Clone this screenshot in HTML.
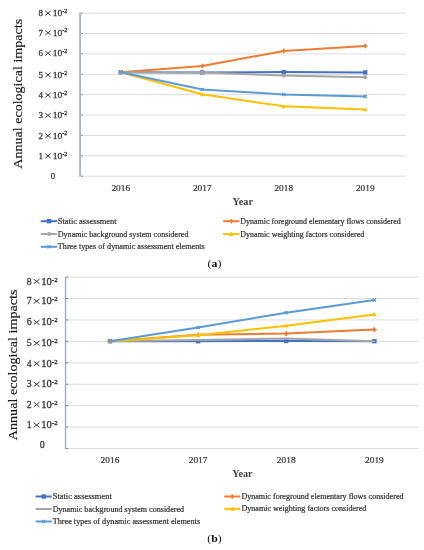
<!DOCTYPE html>
<html><head><meta charset="utf-8"><style>
html,body{margin:0;padding:0;background:#fff;}
body{width:424px;height:550px;overflow:hidden;font-family:"Liberation Serif",serif;}
svg{display:block;will-change:transform;filter:blur(0.35px);}
</style></head><body>
<svg width="424" height="550" viewBox="0 0 424 550">
<rect width="424" height="550" fill="#fff"/>
<line x1="80.10" y1="176.20" x2="406.00" y2="176.20" stroke="#DCDCDC" stroke-width="1"/>
<line x1="80.10" y1="155.82" x2="406.00" y2="155.82" stroke="#DCDCDC" stroke-width="1"/>
<line x1="80.10" y1="135.44" x2="406.00" y2="135.44" stroke="#DCDCDC" stroke-width="1"/>
<line x1="80.10" y1="115.06" x2="406.00" y2="115.06" stroke="#DCDCDC" stroke-width="1"/>
<line x1="80.10" y1="94.68" x2="406.00" y2="94.68" stroke="#DCDCDC" stroke-width="1"/>
<line x1="80.10" y1="74.30" x2="406.00" y2="74.30" stroke="#DCDCDC" stroke-width="1"/>
<line x1="80.10" y1="53.92" x2="406.00" y2="53.92" stroke="#DCDCDC" stroke-width="1"/>
<line x1="80.10" y1="33.54" x2="406.00" y2="33.54" stroke="#DCDCDC" stroke-width="1"/>
<line x1="80.10" y1="13.16" x2="406.00" y2="13.16" stroke="#DCDCDC" stroke-width="1"/>
<line x1="80.10" y1="12.76" x2="80.10" y2="176.60" stroke="#B0B5C0" stroke-width="2.0"/>
<line x1="81.10" y1="176.20" x2="82.70" y2="176.20" stroke="#7E8594" stroke-width="1"/>
<line x1="81.10" y1="155.82" x2="82.70" y2="155.82" stroke="#7E8594" stroke-width="1"/>
<line x1="81.10" y1="135.44" x2="82.70" y2="135.44" stroke="#7E8594" stroke-width="1"/>
<line x1="81.10" y1="115.06" x2="82.70" y2="115.06" stroke="#7E8594" stroke-width="1"/>
<line x1="81.10" y1="94.68" x2="82.70" y2="94.68" stroke="#7E8594" stroke-width="1"/>
<line x1="81.10" y1="74.30" x2="82.70" y2="74.30" stroke="#7E8594" stroke-width="1"/>
<line x1="81.10" y1="53.92" x2="82.70" y2="53.92" stroke="#7E8594" stroke-width="1"/>
<line x1="81.10" y1="33.54" x2="82.70" y2="33.54" stroke="#7E8594" stroke-width="1"/>
<line x1="81.10" y1="13.16" x2="82.70" y2="13.16" stroke="#7E8594" stroke-width="1"/>
<g fill="#3a3a3a" stroke="#3a3a3a" stroke-width="0.3" font-family="Liberation Serif">
<text x="53.00" y="179.43" font-size="9.0" text-anchor="middle">0</text>
<text x="38.55" y="158.83" font-size="9.0">1</text><path d="M45.30 153.70L50.70 158.10M45.30 158.10L50.70 153.70" stroke="#3a3a3a" stroke-width="1.0" fill="none"/><text x="52.73" y="158.83" font-size="9.0" textLength="9.66" lengthAdjust="spacingAndGlyphs">10</text><text x="62.36" y="155.55" font-size="5.5" textLength="5.00" lengthAdjust="spacingAndGlyphs">-2</text>
<text x="38.55" y="138.62" font-size="9.0">2</text><path d="M45.30 133.50L50.70 137.90M45.30 137.90L50.70 133.50" stroke="#3a3a3a" stroke-width="1.0" fill="none"/><text x="52.73" y="138.62" font-size="9.0" textLength="9.66" lengthAdjust="spacingAndGlyphs">10</text><text x="62.36" y="135.35" font-size="5.5" textLength="5.00" lengthAdjust="spacingAndGlyphs">-2</text>
<text x="38.55" y="118.33" font-size="9.0">3</text><path d="M45.30 113.20L50.70 117.60M45.30 117.60L50.70 113.20" stroke="#3a3a3a" stroke-width="1.0" fill="none"/><text x="52.73" y="118.33" font-size="9.0" textLength="9.66" lengthAdjust="spacingAndGlyphs">10</text><text x="62.36" y="115.05" font-size="5.5" textLength="5.00" lengthAdjust="spacingAndGlyphs">-2</text>
<text x="38.55" y="98.02" font-size="9.0">4</text><path d="M45.30 92.90L50.70 97.30M45.30 97.30L50.70 92.90" stroke="#3a3a3a" stroke-width="1.0" fill="none"/><text x="52.73" y="98.02" font-size="9.0" textLength="9.66" lengthAdjust="spacingAndGlyphs">10</text><text x="62.36" y="94.75" font-size="5.5" textLength="5.00" lengthAdjust="spacingAndGlyphs">-2</text>
<text x="38.55" y="77.83" font-size="9.0">5</text><path d="M45.30 72.70L50.70 77.10M45.30 77.10L50.70 72.70" stroke="#3a3a3a" stroke-width="1.0" fill="none"/><text x="52.73" y="77.83" font-size="9.0" textLength="9.66" lengthAdjust="spacingAndGlyphs">10</text><text x="62.36" y="74.55" font-size="5.5" textLength="5.00" lengthAdjust="spacingAndGlyphs">-2</text>
<text x="38.55" y="56.22" font-size="9.0">6</text><path d="M45.30 51.10L50.70 55.50M45.30 55.50L50.70 51.10" stroke="#3a3a3a" stroke-width="1.0" fill="none"/><text x="52.73" y="56.22" font-size="9.0" textLength="9.66" lengthAdjust="spacingAndGlyphs">10</text><text x="62.36" y="52.95" font-size="5.5" textLength="5.00" lengthAdjust="spacingAndGlyphs">-2</text>
<text x="38.55" y="35.72" font-size="9.0">7</text><path d="M45.30 30.60L50.70 35.00M45.30 35.00L50.70 30.60" stroke="#3a3a3a" stroke-width="1.0" fill="none"/><text x="52.73" y="35.72" font-size="9.0" textLength="9.66" lengthAdjust="spacingAndGlyphs">10</text><text x="62.36" y="32.45" font-size="5.5" textLength="5.00" lengthAdjust="spacingAndGlyphs">-2</text>
<text x="38.55" y="16.12" font-size="9.0">8</text><path d="M45.30 11.00L50.70 15.40M45.30 15.40L50.70 11.00" stroke="#3a3a3a" stroke-width="1.0" fill="none"/><text x="52.73" y="16.12" font-size="9.0" textLength="9.66" lengthAdjust="spacingAndGlyphs">10</text><text x="62.36" y="12.85" font-size="5.5" textLength="5.00" lengthAdjust="spacingAndGlyphs">-2</text>
</g>
<text transform="translate(21.60 93.80) rotate(-90)" font-family="Liberation Serif" font-size="13" fill="#1a1a1a" stroke="#1a1a1a" stroke-width="0.15" text-anchor="middle" textLength="149.8" lengthAdjust="spacingAndGlyphs">Annual ecological impacts</text>
<text x="120.75" y="190.90" font-family="Liberation Serif" font-size="8.9" fill="#333333" stroke="#333333" stroke-width="0.2" text-anchor="middle" textLength="18.6" lengthAdjust="spacingAndGlyphs">2016</text>
<text x="202.25" y="190.90" font-family="Liberation Serif" font-size="8.9" fill="#333333" stroke="#333333" stroke-width="0.2" text-anchor="middle" textLength="18.6" lengthAdjust="spacingAndGlyphs">2017</text>
<text x="283.75" y="190.90" font-family="Liberation Serif" font-size="8.9" fill="#333333" stroke="#333333" stroke-width="0.2" text-anchor="middle" textLength="18.6" lengthAdjust="spacingAndGlyphs">2018</text>
<text x="365.25" y="190.90" font-family="Liberation Serif" font-size="8.9" fill="#333333" stroke="#333333" stroke-width="0.2" text-anchor="middle" textLength="18.6" lengthAdjust="spacingAndGlyphs">2019</text>
<text x="242.75" y="204.50" font-family="Liberation Serif" font-size="10.2" font-weight="bold" fill="#404040" text-anchor="middle">Year</text>
<polyline points="120.75,72.20 202.25,72.40 283.75,72.10 365.25,72.40" fill="none" stroke="#4472C4" stroke-width="2.0" stroke-linejoin="round" stroke-linecap="round"/>
<rect x="118.55" y="70.00" width="4.40" height="4.40" fill="#4472C4"/>
<rect x="200.05" y="70.20" width="4.40" height="4.40" fill="#4472C4"/>
<rect x="281.55" y="69.90" width="4.40" height="4.40" fill="#4472C4"/>
<rect x="363.05" y="70.20" width="4.40" height="4.40" fill="#4472C4"/>
<polyline points="120.75,72.20 202.25,66.00 283.75,50.90 365.25,46.00" fill="none" stroke="#ED7D31" stroke-width="2.0" stroke-linejoin="round" stroke-linecap="round"/>
<path d="M120.75 69.90V74.50M118.45 72.20H123.05" stroke="#ED7D31" stroke-width="1.6" fill="none"/>
<path d="M202.25 63.70V68.30M199.95 66.00H204.55" stroke="#ED7D31" stroke-width="1.6" fill="none"/>
<path d="M283.75 48.60V53.20M281.45 50.90H286.05" stroke="#ED7D31" stroke-width="1.6" fill="none"/>
<path d="M365.25 43.70V48.30M362.95 46.00H367.55" stroke="#ED7D31" stroke-width="1.6" fill="none"/>
<polyline points="120.75,72.20 202.25,72.50 283.75,75.50 365.25,77.30" fill="none" stroke="#A5A5A5" stroke-width="2.0" stroke-linejoin="round" stroke-linecap="round"/>
<circle cx="120.75" cy="72.20" r="2.00" fill="#A5A5A5"/>
<circle cx="202.25" cy="72.50" r="2.00" fill="#A5A5A5"/>
<circle cx="283.75" cy="75.50" r="2.00" fill="#A5A5A5"/>
<circle cx="365.25" cy="77.30" r="2.00" fill="#A5A5A5"/>
<polyline points="120.75,72.20 202.25,94.30 283.75,106.30 365.25,109.50" fill="none" stroke="#FFC000" stroke-width="2.0" stroke-linejoin="round" stroke-linecap="round"/>
<path d="M120.75 69.90L123.05 74.04L118.45 74.04Z" fill="#FFC000"/>
<path d="M202.25 92.00L204.55 96.14L199.95 96.14Z" fill="#FFC000"/>
<path d="M283.75 104.00L286.05 108.14L281.45 108.14Z" fill="#FFC000"/>
<path d="M365.25 107.20L367.55 111.34L362.95 111.34Z" fill="#FFC000"/>
<polyline points="120.75,72.20 202.25,89.40 283.75,94.40 365.25,96.40" fill="none" stroke="#5B9BD5" stroke-width="2.0" stroke-linejoin="round" stroke-linecap="round"/>
<path d="M119.15 70.60L122.35 73.80M119.15 73.80L122.35 70.60" stroke="#5B9BD5" stroke-width="1.2" fill="none"/>
<path d="M200.65 87.80L203.85 91.00M200.65 91.00L203.85 87.80" stroke="#5B9BD5" stroke-width="1.2" fill="none"/>
<path d="M282.15 92.80L285.35 96.00M282.15 96.00L285.35 92.80" stroke="#5B9BD5" stroke-width="1.2" fill="none"/>
<path d="M363.65 94.80L366.85 98.00M363.65 98.00L366.85 94.80" stroke="#5B9BD5" stroke-width="1.2" fill="none"/>
<line x1="40.80" y1="221.20" x2="57.20" y2="221.20" stroke="#4472C4" stroke-width="2.0"/>
<rect x="46.80" y="219.00" width="4.40" height="4.40" fill="#4472C4"/>
<text x="57.80" y="223.80" font-family="Liberation Serif" font-size="7.2" fill="#333333" stroke="#333333" stroke-width="0.2" textLength="58.80" lengthAdjust="spacingAndGlyphs">Static assessment</text>
<line x1="40.80" y1="234.00" x2="57.20" y2="234.00" stroke="#A5A5A5" stroke-width="2.0"/>
<circle cx="49.00" cy="234.00" r="2.00" fill="#A5A5A5"/>
<text x="57.80" y="236.60" font-family="Liberation Serif" font-size="7.2" fill="#333333" stroke="#333333" stroke-width="0.2" textLength="130.60" lengthAdjust="spacingAndGlyphs">Dynamic background system considered</text>
<line x1="40.80" y1="246.80" x2="57.20" y2="246.80" stroke="#5B9BD5" stroke-width="2.0"/>
<path d="M47.40 245.20L50.60 248.40M47.40 248.40L50.60 245.20" stroke="#5B9BD5" stroke-width="1.2" fill="none"/>
<text x="57.80" y="249.40" font-family="Liberation Serif" font-size="7.2" fill="#333333" stroke="#333333" stroke-width="0.2" textLength="147.00" lengthAdjust="spacingAndGlyphs">Three types of dynamic assessment elements</text>
<line x1="223.20" y1="221.20" x2="239.60" y2="221.20" stroke="#ED7D31" stroke-width="2.0"/>
<path d="M231.40 218.90V223.50M229.10 221.20H233.70" stroke="#ED7D31" stroke-width="1.6" fill="none"/>
<text x="240.30" y="223.80" font-family="Liberation Serif" font-size="7.2" fill="#333333" stroke="#333333" stroke-width="0.2" textLength="160.40" lengthAdjust="spacingAndGlyphs">Dynamic foreground elementary flows considered</text>
<line x1="223.20" y1="234.10" x2="239.60" y2="234.10" stroke="#FFC000" stroke-width="2.0"/>
<path d="M231.40 231.80L233.70 235.94L229.10 235.94Z" fill="#FFC000"/>
<text x="240.30" y="236.70" font-family="Liberation Serif" font-size="7.2" fill="#333333" stroke="#333333" stroke-width="0.2" textLength="124.00" lengthAdjust="spacingAndGlyphs">Dynamic weighting factors considered</text>
<text x="214.50" y="266.80" font-family="Liberation Serif" font-size="10.8" fill="#111" text-anchor="middle" textLength="13.9" lengthAdjust="spacingAndGlyphs">(<tspan font-weight="bold">a</tspan>)</text>
<line x1="65.55" y1="448.50" x2="418.50" y2="448.50" stroke="#DCDCDC" stroke-width="1"/>
<line x1="65.55" y1="427.07" x2="418.50" y2="427.07" stroke="#DCDCDC" stroke-width="1"/>
<line x1="65.55" y1="405.65" x2="418.50" y2="405.65" stroke="#DCDCDC" stroke-width="1"/>
<line x1="65.55" y1="384.23" x2="418.50" y2="384.23" stroke="#DCDCDC" stroke-width="1"/>
<line x1="65.55" y1="362.80" x2="418.50" y2="362.80" stroke="#DCDCDC" stroke-width="1"/>
<line x1="65.55" y1="341.38" x2="418.50" y2="341.38" stroke="#DCDCDC" stroke-width="1"/>
<line x1="65.55" y1="319.95" x2="418.50" y2="319.95" stroke="#DCDCDC" stroke-width="1"/>
<line x1="65.55" y1="298.52" x2="418.50" y2="298.52" stroke="#DCDCDC" stroke-width="1"/>
<line x1="65.55" y1="277.10" x2="418.50" y2="277.10" stroke="#DCDCDC" stroke-width="1"/>
<line x1="65.55" y1="276.70" x2="65.55" y2="448.90" stroke="#A3A7C0" stroke-width="1.4"/>
<line x1="66.25" y1="448.50" x2="67.95" y2="448.50" stroke="#70768C" stroke-width="1"/>
<line x1="66.25" y1="427.07" x2="67.95" y2="427.07" stroke="#70768C" stroke-width="1"/>
<line x1="66.25" y1="405.65" x2="67.95" y2="405.65" stroke="#70768C" stroke-width="1"/>
<line x1="66.25" y1="384.23" x2="67.95" y2="384.23" stroke="#70768C" stroke-width="1"/>
<line x1="66.25" y1="362.80" x2="67.95" y2="362.80" stroke="#70768C" stroke-width="1"/>
<line x1="66.25" y1="341.38" x2="67.95" y2="341.38" stroke="#70768C" stroke-width="1"/>
<line x1="66.25" y1="319.95" x2="67.95" y2="319.95" stroke="#70768C" stroke-width="1"/>
<line x1="66.25" y1="298.52" x2="67.95" y2="298.52" stroke="#70768C" stroke-width="1"/>
<line x1="66.25" y1="277.10" x2="67.95" y2="277.10" stroke="#70768C" stroke-width="1"/>
<g fill="#3a3a3a" stroke="#3a3a3a" stroke-width="0.3" font-family="Liberation Serif">
<text x="42.30" y="448.49" font-size="9.8" text-anchor="middle">0</text>
<text x="26.71" y="428.19" font-size="9.8">1</text><path d="M33.70 422.70L39.50 427.30M33.70 427.30L39.50 422.70" stroke="#3a3a3a" stroke-width="1.0" fill="none"/><text x="41.15" y="428.19" font-size="9.8" textLength="10.57" lengthAdjust="spacingAndGlyphs">10</text><text x="51.93" y="425.11" font-size="6.0" textLength="5.68" lengthAdjust="spacingAndGlyphs">-2</text>
<text x="26.71" y="407.79" font-size="9.8">2</text><path d="M33.70 402.30L39.50 406.90M33.70 406.90L39.50 402.30" stroke="#3a3a3a" stroke-width="1.0" fill="none"/><text x="41.15" y="407.79" font-size="9.8" textLength="10.57" lengthAdjust="spacingAndGlyphs">10</text><text x="51.93" y="404.71" font-size="6.0" textLength="5.68" lengthAdjust="spacingAndGlyphs">-2</text>
<text x="26.71" y="387.49" font-size="9.8">3</text><path d="M33.70 382.00L39.50 386.60M33.70 386.60L39.50 382.00" stroke="#3a3a3a" stroke-width="1.0" fill="none"/><text x="41.15" y="387.49" font-size="9.8" textLength="10.57" lengthAdjust="spacingAndGlyphs">10</text><text x="51.93" y="384.41" font-size="6.0" textLength="5.68" lengthAdjust="spacingAndGlyphs">-2</text>
<text x="26.71" y="366.79" font-size="9.8">4</text><path d="M33.70 361.30L39.50 365.90M33.70 365.90L39.50 361.30" stroke="#3a3a3a" stroke-width="1.0" fill="none"/><text x="41.15" y="366.79" font-size="9.8" textLength="10.57" lengthAdjust="spacingAndGlyphs">10</text><text x="51.93" y="363.71" font-size="6.0" textLength="5.68" lengthAdjust="spacingAndGlyphs">-2</text>
<text x="26.71" y="346.38" font-size="9.8">5</text><path d="M33.70 340.90L39.50 345.50M33.70 345.50L39.50 340.90" stroke="#3a3a3a" stroke-width="1.0" fill="none"/><text x="41.15" y="346.38" font-size="9.8" textLength="10.57" lengthAdjust="spacingAndGlyphs">10</text><text x="51.93" y="343.31" font-size="6.0" textLength="5.68" lengthAdjust="spacingAndGlyphs">-2</text>
<text x="26.71" y="325.49" font-size="9.8">6</text><path d="M33.70 320.00L39.50 324.60M33.70 324.60L39.50 320.00" stroke="#3a3a3a" stroke-width="1.0" fill="none"/><text x="41.15" y="325.49" font-size="9.8" textLength="10.57" lengthAdjust="spacingAndGlyphs">10</text><text x="51.93" y="322.41" font-size="6.0" textLength="5.68" lengthAdjust="spacingAndGlyphs">-2</text>
<text x="26.71" y="304.38" font-size="9.8">7</text><path d="M33.70 298.90L39.50 303.50M33.70 303.50L39.50 298.90" stroke="#3a3a3a" stroke-width="1.0" fill="none"/><text x="41.15" y="304.38" font-size="9.8" textLength="10.57" lengthAdjust="spacingAndGlyphs">10</text><text x="51.93" y="301.31" font-size="6.0" textLength="5.68" lengthAdjust="spacingAndGlyphs">-2</text>
<text x="26.71" y="284.58" font-size="9.8">8</text><path d="M33.70 279.10L39.50 283.70M33.70 283.70L39.50 279.10" stroke="#3a3a3a" stroke-width="1.0" fill="none"/><text x="41.15" y="284.58" font-size="9.8" textLength="10.57" lengthAdjust="spacingAndGlyphs">10</text><text x="51.93" y="281.51" font-size="6.0" textLength="5.68" lengthAdjust="spacingAndGlyphs">-2</text>
</g>
<text transform="translate(17.40 364.90) rotate(-90)" font-family="Liberation Serif" font-size="13" fill="#1a1a1a" stroke="#1a1a1a" stroke-width="0.15" text-anchor="middle" textLength="150.7" lengthAdjust="spacingAndGlyphs">Annual ecological impacts</text>
<text x="110.00" y="463.30" font-family="Liberation Serif" font-size="8.9" fill="#333333" stroke="#333333" stroke-width="0.2" text-anchor="middle" textLength="18.8" lengthAdjust="spacingAndGlyphs">2016</text>
<text x="198.10" y="463.30" font-family="Liberation Serif" font-size="8.9" fill="#333333" stroke="#333333" stroke-width="0.2" text-anchor="middle" textLength="18.8" lengthAdjust="spacingAndGlyphs">2017</text>
<text x="286.20" y="463.30" font-family="Liberation Serif" font-size="8.9" fill="#333333" stroke="#333333" stroke-width="0.2" text-anchor="middle" textLength="18.8" lengthAdjust="spacingAndGlyphs">2018</text>
<text x="374.40" y="463.30" font-family="Liberation Serif" font-size="8.9" fill="#333333" stroke="#333333" stroke-width="0.2" text-anchor="middle" textLength="18.8" lengthAdjust="spacingAndGlyphs">2019</text>
<text x="242.40" y="476.80" font-family="Liberation Serif" font-size="10.2" font-weight="bold" fill="#404040" text-anchor="middle">Year</text>
<polyline points="110.00,341.20 198.10,341.20 286.20,341.00 374.40,341.20" fill="none" stroke="#4472C4" stroke-width="2.0" stroke-linejoin="round" stroke-linecap="round"/>
<rect x="107.80" y="339.00" width="4.40" height="4.40" fill="#4472C4"/>
<rect x="195.90" y="339.00" width="4.40" height="4.40" fill="#4472C4"/>
<rect x="284.00" y="338.80" width="4.40" height="4.40" fill="#4472C4"/>
<rect x="372.20" y="339.00" width="4.40" height="4.40" fill="#4472C4"/>
<polyline points="110.00,341.20 198.10,334.80 286.20,333.60 374.40,329.60" fill="none" stroke="#ED7D31" stroke-width="2.0" stroke-linejoin="round" stroke-linecap="round"/>
<path d="M110.00 338.90V343.50M107.70 341.20H112.30" stroke="#ED7D31" stroke-width="1.6" fill="none"/>
<path d="M198.10 332.50V337.10M195.80 334.80H200.40" stroke="#ED7D31" stroke-width="1.6" fill="none"/>
<path d="M286.20 331.30V335.90M283.90 333.60H288.50" stroke="#ED7D31" stroke-width="1.6" fill="none"/>
<path d="M374.40 327.30V331.90M372.10 329.60H376.70" stroke="#ED7D31" stroke-width="1.6" fill="none"/>
<polyline points="110.00,341.20 198.10,340.00 286.20,338.60 374.40,341.20" fill="none" stroke="#A5A5A5" stroke-width="2.0" stroke-linejoin="round" stroke-linecap="round"/>
<polyline points="110.00,341.20 198.10,335.30 286.20,325.70 374.40,314.40" fill="none" stroke="#FFC000" stroke-width="2.0" stroke-linejoin="round" stroke-linecap="round"/>
<path d="M110.00 338.90L112.30 343.04L107.70 343.04Z" fill="#FFC000"/>
<path d="M198.10 333.00L200.40 337.14L195.80 337.14Z" fill="#FFC000"/>
<path d="M286.20 323.40L288.50 327.54L283.90 327.54Z" fill="#FFC000"/>
<path d="M374.40 312.10L376.70 316.24L372.10 316.24Z" fill="#FFC000"/>
<polyline points="110.00,341.20 198.10,327.40 286.20,312.70 374.40,299.90" fill="none" stroke="#5B9BD5" stroke-width="2.0" stroke-linejoin="round" stroke-linecap="round"/>
<path d="M108.40 339.60L111.60 342.80M108.40 342.80L111.60 339.60" stroke="#5B9BD5" stroke-width="1.2" fill="none"/>
<path d="M196.50 325.80L199.70 329.00M196.50 329.00L199.70 325.80" stroke="#5B9BD5" stroke-width="1.2" fill="none"/>
<path d="M284.60 311.10L287.80 314.30M284.60 314.30L287.80 311.10" stroke="#5B9BD5" stroke-width="1.2" fill="none"/>
<path d="M372.80 298.30L376.00 301.50M372.80 301.50L376.00 298.30" stroke="#5B9BD5" stroke-width="1.2" fill="none"/>
<line x1="35.60" y1="496.50" x2="51.80" y2="496.50" stroke="#4472C4" stroke-width="2.0"/>
<rect x="41.50" y="494.30" width="4.40" height="4.40" fill="#4472C4"/>
<text x="52.70" y="499.10" font-family="Liberation Serif" font-size="7.2" fill="#333333" stroke="#333333" stroke-width="0.2" textLength="59.10" lengthAdjust="spacingAndGlyphs">Static assessment</text>
<line x1="35.60" y1="509.00" x2="51.80" y2="509.00" stroke="#A5A5A5" stroke-width="2.0"/>
<text x="52.70" y="511.60" font-family="Liberation Serif" font-size="7.2" fill="#333333" stroke="#333333" stroke-width="0.2" textLength="131.40" lengthAdjust="spacingAndGlyphs">Dynamic background system considered</text>
<line x1="35.60" y1="521.50" x2="51.80" y2="521.50" stroke="#5B9BD5" stroke-width="2.0"/>
<path d="M42.10 519.90L45.30 523.10M42.10 523.10L45.30 519.90" stroke="#5B9BD5" stroke-width="1.2" fill="none"/>
<text x="52.70" y="524.10" font-family="Liberation Serif" font-size="7.2" fill="#333333" stroke="#333333" stroke-width="0.2" textLength="147.40" lengthAdjust="spacingAndGlyphs">Three types of dynamic assessment elements</text>
<line x1="224.20" y1="496.50" x2="240.40" y2="496.50" stroke="#ED7D31" stroke-width="2.0"/>
<path d="M232.30 494.20V498.80M230.00 496.50H234.60" stroke="#ED7D31" stroke-width="1.6" fill="none"/>
<text x="241.40" y="499.10" font-family="Liberation Serif" font-size="7.2" fill="#333333" stroke="#333333" stroke-width="0.2" textLength="162.10" lengthAdjust="spacingAndGlyphs">Dynamic foreground elementary flows considered</text>
<line x1="224.20" y1="508.80" x2="240.40" y2="508.80" stroke="#FFC000" stroke-width="2.0"/>
<path d="M232.30 506.50L234.60 510.64L230.00 510.64Z" fill="#FFC000"/>
<text x="241.40" y="511.40" font-family="Liberation Serif" font-size="7.2" fill="#333333" stroke="#333333" stroke-width="0.2" textLength="125.00" lengthAdjust="spacingAndGlyphs">Dynamic weighting factors considered</text>
<text x="214.45" y="541.90" font-family="Liberation Serif" font-size="10.8" fill="#111" text-anchor="middle" textLength="14.5" lengthAdjust="spacingAndGlyphs">(<tspan font-weight="bold">b</tspan>)</text>
</svg>
</body></html>
